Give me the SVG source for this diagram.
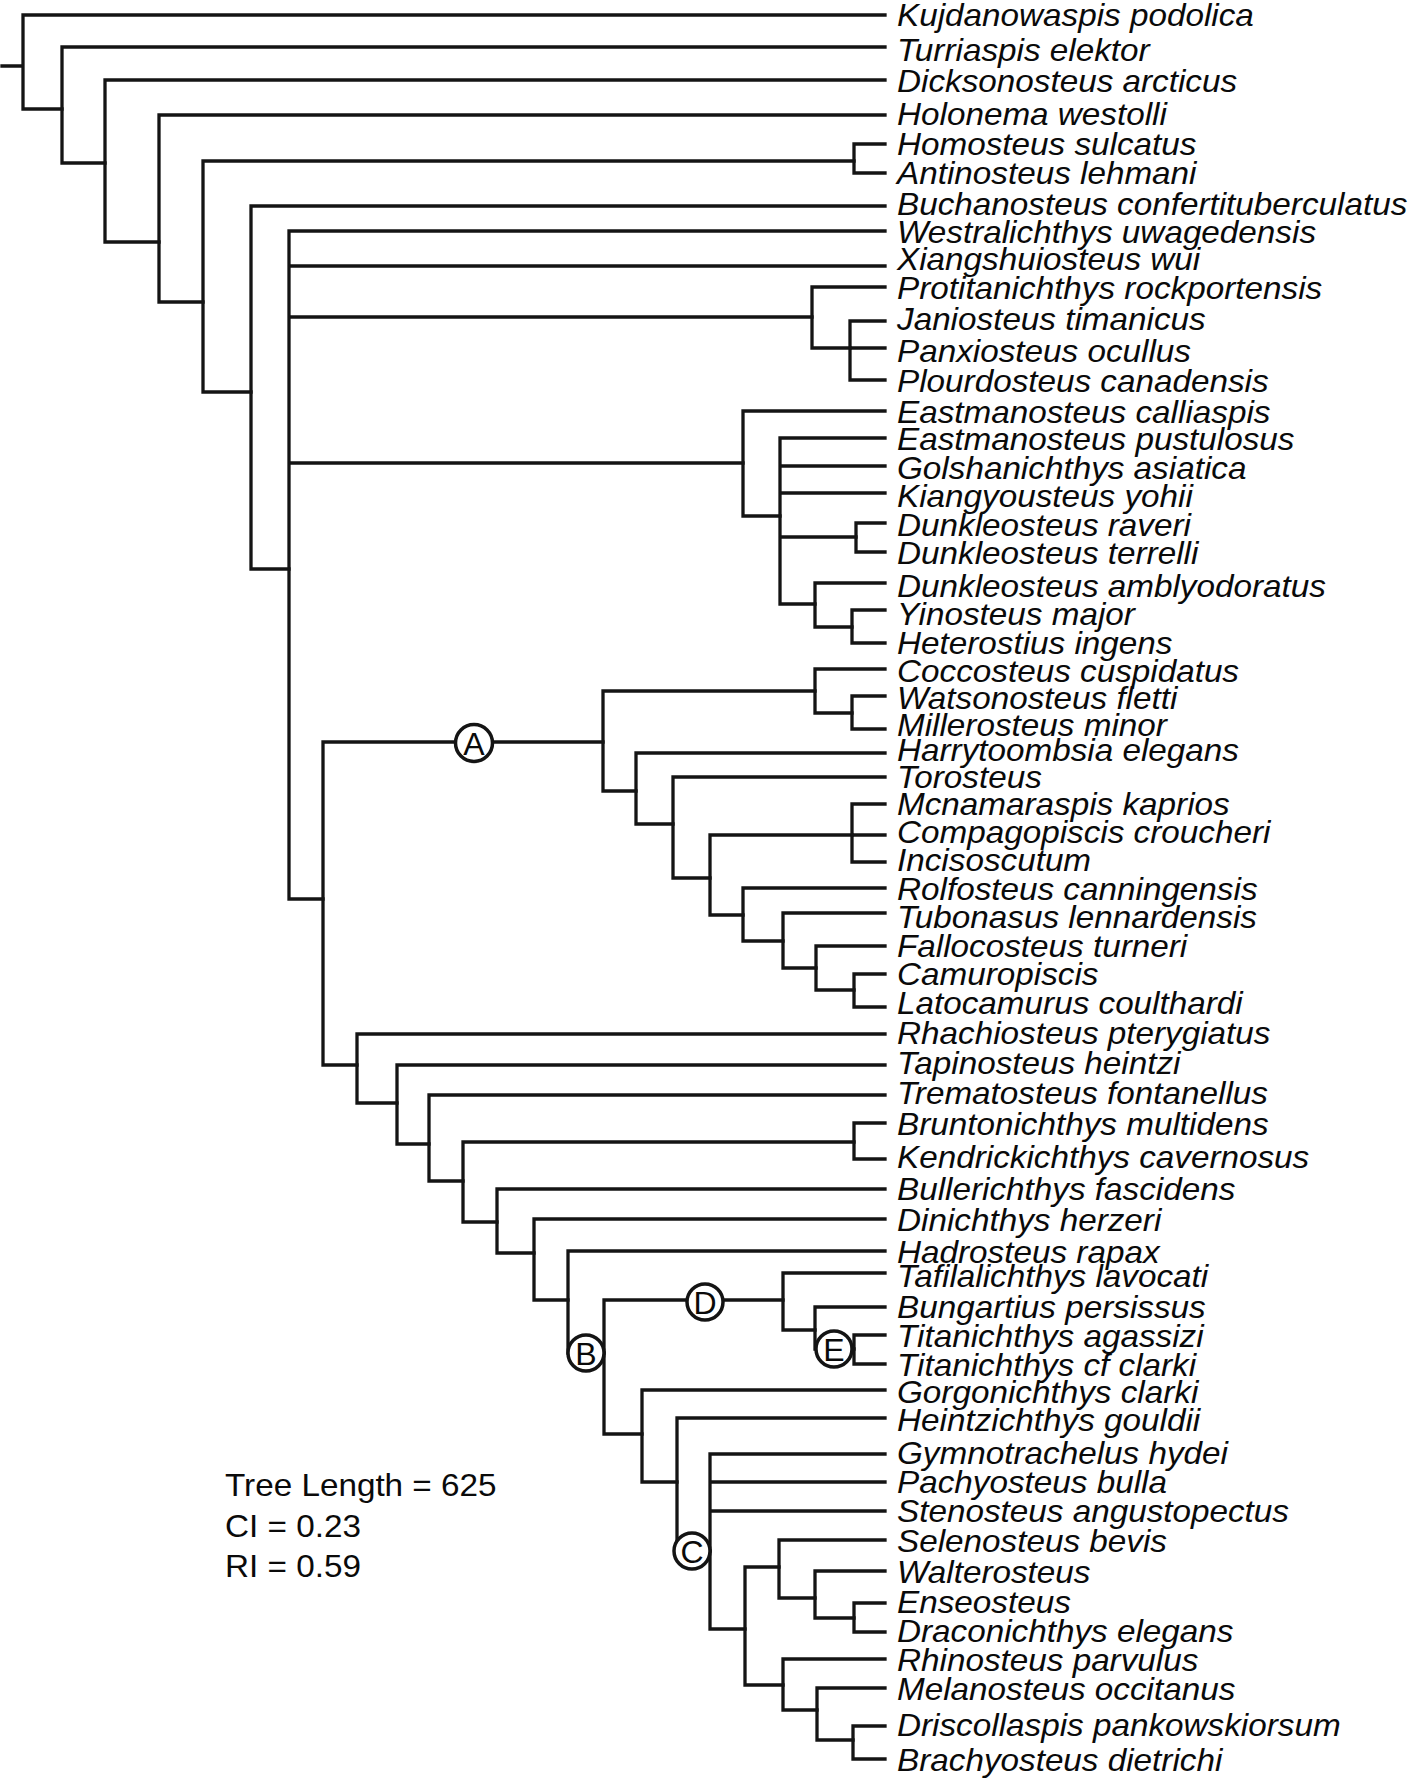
<svg xmlns="http://www.w3.org/2000/svg" width="1413" height="1782" viewBox="0 0 1413 1782">
<style>
.br{fill:none;stroke:#141414;stroke-width:3.3;stroke-linecap:square;stroke-linejoin:miter}
.tx{font-family:"Liberation Sans",Arial,sans-serif;font-style:italic;font-size:32px;fill:#0a0a0a}
.st{font-family:"Liberation Sans",Arial,sans-serif;font-size:32px;fill:#0a0a0a}
.nc{fill:#fff;stroke:#141414;stroke-width:3.5}
.nl{font-family:"Liberation Sans",Arial,sans-serif;font-size:32px;fill:#0a0a0a;text-anchor:middle}
</style>
<rect width="1413" height="1782" fill="#fff"/>
<g id="connectors" class="br">
<path d="M2,66H23 M23,15V109 M23,15H885 M23,109H62"/>
<path d="M62,47V163 M62,47H885 M62,163H105"/>
<path d="M105,80V242 M105,80H885 M105,242H159"/>
<path d="M159,115V302 M159,115H885 M159,302H203"/>
<path d="M203,161V392 M203,161H854 M203,392H251"/>
<path d="M854,144V173 M854,144H885 M854,173H885"/>
<path d="M251,206V569 M251,206H885 M251,569H289"/>
<path d="M289,231V899 M289,231H885 M289,266H885 M289,317H812 M289,463H743 M289,899H323"/>
<path d="M812,287V348 M812,287H885 M812,348H850"/>
<path d="M850,321V380 M850,321H885 M850,348H885 M850,380H885"/>
<path d="M743,411V516 M743,411H885 M743,516H780"/>
<path d="M780,438V604 M780,438H885 M780,466H885 M780,493H885 M780,537H856 M780,604H815"/>
<path d="M856,523V552 M856,523H885 M856,552H885"/>
<path d="M815,583V627 M815,583H885 M815,627H852"/>
<path d="M852,610V643 M852,610H885 M852,643H885"/>
<path d="M323,742V1065 M323,742H603 M323,1065H357"/>
<path d="M603,691V791 M603,691H815 M603,791H636"/>
<path d="M815,669V713 M815,669H885 M815,713H852"/>
<path d="M852,696V729 M852,696H885 M852,729H885"/>
<path d="M636,753V824 M636,753H885 M636,824H673"/>
<path d="M673,777V878 M673,777H885 M673,878H710"/>
<path d="M710,835V915 M710,835H852 M710,915H743"/>
<path d="M852,804V862 M852,804H885 M852,835H885 M852,862H885"/>
<path d="M743,888V941 M743,888H885 M743,941H783"/>
<path d="M783,913V968 M783,913H885 M783,968H816"/>
<path d="M816,946V990 M816,946H885 M816,990H854"/>
<path d="M854,974V1007 M854,974H885 M854,1007H885"/>
<path d="M357,1034V1103 M357,1034H885 M357,1103H397"/>
<path d="M397,1065V1144 M397,1065H885 M397,1144H429"/>
<path d="M429,1095V1181 M429,1095H885 M429,1181H463"/>
<path d="M463,1142V1222 M463,1142H854 M463,1222H497"/>
<path d="M854,1123V1159 M854,1123H885 M854,1159H885"/>
<path d="M497,1189V1253 M497,1189H885 M497,1253H534"/>
<path d="M534,1219V1300 M534,1219H885 M534,1300H568"/>
<path d="M568,1251V1353 M568,1251H885 M568,1353H604"/>
<path d="M604,1300V1434 M604,1300H783 M604,1434H642"/>
<path d="M783,1273V1330 M783,1273H885 M783,1330H815"/>
<path d="M815,1307V1349 M815,1307H885 M815,1349H854"/>
<path d="M854,1335V1364 M854,1335H885 M854,1364H885"/>
<path d="M642,1390V1482 M642,1390H885 M642,1482H677"/>
<path d="M677,1418V1551 M677,1418H885 M677,1551H710"/>
<path d="M710,1454V1629 M710,1454H885 M710,1482H885 M710,1511H885 M710,1629H745"/>
<path d="M745,1567V1685 M745,1567H779 M745,1685H783"/>
<path d="M779,1540V1598 M779,1540H885 M779,1598H815"/>
<path d="M815,1571V1618 M815,1571H885 M815,1618H854"/>
<path d="M854,1603V1632 M854,1603H885 M854,1632H885"/>
<path d="M783,1659V1710 M783,1659H885 M783,1710H817"/>
<path d="M817,1688V1740 M817,1688H885 M817,1740H853"/>
<path d="M853,1726V1759 M853,1726H885 M853,1759H885"/>
</g>
<g id="node-A"><circle class="nc" cx="474" cy="743" r="18.5"/><text class="nl" x="474" y="754.5">A</text></g>
<g id="node-B"><circle class="nc" cx="586" cy="1353" r="18"/><text class="nl" x="586" y="1364.5">B</text></g>
<g id="node-C"><circle class="nc" cx="692" cy="1551" r="18"/><text class="nl" x="692" y="1562.5">C</text></g>
<g id="node-D"><circle class="nc" cx="705" cy="1302" r="18"/><text class="nl" x="705" y="1313.5">D</text></g>
<g id="node-E"><circle class="nc" cx="834" cy="1349" r="18"/><text class="nl" x="834" y="1360.5">E</text></g>
<g id="taxa" class="tx" transform="translate(897 0) scale(1.04 1)">
<g id="t01"><text x="0" y="26">Kujdanowaspis podolica</text></g>
<g id="t02"><text x="0" y="61">Turriaspis elektor</text></g>
<g id="t03"><text x="0" y="92">Dicksonosteus arcticus</text></g>
<g id="t04"><text x="0" y="125">Holonema westolli</text></g>
<g id="t05"><text x="0" y="155">Homosteus sulcatus</text></g>
<g id="t06"><text x="0" y="184">Antinosteus lehmani</text></g>
<g id="t07"><text x="0" y="215">Buchanosteus confertituberculatus</text></g>
<g id="t08"><text x="0" y="243">Westralichthys uwagedensis</text></g>
<g id="t09"><text x="0" y="270">Xiangshuiosteus wui</text></g>
<g id="t10"><text x="0" y="299">Protitanichthys rockportensis</text></g>
<g id="t11"><text x="0" y="330">Janiosteus timanicus</text></g>
<g id="t12"><text x="0" y="362">Panxiosteus ocullus</text></g>
<g id="t13"><text x="0" y="392">Plourdosteus canadensis</text></g>
<g id="t14"><text x="0" y="423">Eastmanosteus calliaspis</text></g>
<g id="t15"><text x="0" y="450">Eastmanosteus pustulosus</text></g>
<g id="t16"><text x="0" y="479">Golshanichthys asiatica</text></g>
<g id="t17"><text x="0" y="507">Kiangyousteus yohii</text></g>
<g id="t18"><text x="0" y="536">Dunkleosteus raveri</text></g>
<g id="t19"><text x="0" y="564">Dunkleosteus terrelli</text></g>
<g id="t20"><text x="0" y="597">Dunkleosteus amblyodoratus</text></g>
<g id="t21"><text x="0" y="625">Yinosteus major</text></g>
<g id="t22"><text x="0" y="654">Heterostius ingens</text></g>
<g id="t23"><text x="0" y="682">Coccosteus cuspidatus</text></g>
<g id="t24"><text x="0" y="709">Watsonosteus fletti</text></g>
<g id="t25"><text x="0" y="736">Millerosteus minor</text></g>
<g id="t26"><text x="0" y="761">Harrytoombsia elegans</text></g>
<g id="t27"><text x="0" y="788">Torosteus</text></g>
<g id="t28"><text x="0" y="815">Mcnamaraspis kaprios</text></g>
<g id="t29"><text x="0" y="843">Compagopiscis croucheri</text></g>
<g id="t30"><text x="0" y="871">Incisoscutum</text></g>
<g id="t31"><text x="0" y="900">Rolfosteus canningensis</text></g>
<g id="t32"><text x="0" y="928">Tubonasus lennardensis</text></g>
<g id="t33"><text x="0" y="957">Fallocosteus turneri</text></g>
<g id="t34"><text x="0" y="985">Camuropiscis</text></g>
<g id="t35"><text x="0" y="1014">Latocamurus coulthardi</text></g>
<g id="t36"><text x="0" y="1044">Rhachiosteus pterygiatus</text></g>
<g id="t37"><text x="0" y="1074">Tapinosteus heintzi</text></g>
<g id="t38"><text x="0" y="1104">Trematosteus fontanellus</text></g>
<g id="t39"><text x="0" y="1135">Bruntonichthys multidens</text></g>
<g id="t40"><text x="0" y="1168">Kendrickichthys cavernosus</text></g>
<g id="t41"><text x="0" y="1200">Bullerichthys fascidens</text></g>
<g id="t42"><text x="0" y="1231">Dinichthys herzeri</text></g>
<g id="t43"><text x="0" y="1263">Hadrosteus rapax</text></g>
<g id="t44"><text x="0" y="1287">Tafilalichthys lavocati</text></g>
<g id="t45"><text x="0" y="1318">Bungartius persissus</text></g>
<g id="t46"><text x="0" y="1347">Titanichthys agassizi</text></g>
<g id="t47"><text x="0" y="1376">Titanichthys cf clarki</text></g>
<g id="t48"><text x="0" y="1403">Gorgonichthys clarki</text></g>
<g id="t49"><text x="0" y="1431">Heintzichthys gouldii</text></g>
<g id="t50"><text x="0" y="1464">Gymnotrachelus hydei</text></g>
<g id="t51"><text x="0" y="1493">Pachyosteus bulla</text></g>
<g id="t52"><text x="0" y="1522">Stenosteus angustopectus</text></g>
<g id="t53"><text x="0" y="1552">Selenosteus bevis</text></g>
<g id="t54"><text x="0" y="1583">Walterosteus</text></g>
<g id="t55"><text x="0" y="1613">Enseosteus</text></g>
<g id="t56"><text x="0" y="1642">Draconichthys elegans</text></g>
<g id="t57"><text x="0" y="1671">Rhinosteus parvulus</text></g>
<g id="t58"><text x="0" y="1700">Melanosteus occitanus</text></g>
<g id="t59"><text x="0" y="1736">Driscollaspis pankowskiorsum</text></g>
<g id="t60"><text x="0" y="1771">Brachyosteus dietrichi</text></g>
</g>
<g id="stats" class="st" transform="translate(225 0) scale(1.04 1)">
<text x="0" y="1496">Tree Length = 625</text>
<text x="0" y="1537">CI = 0.23</text>
<text x="0" y="1577">RI = 0.59</text>
</g>
</svg>
